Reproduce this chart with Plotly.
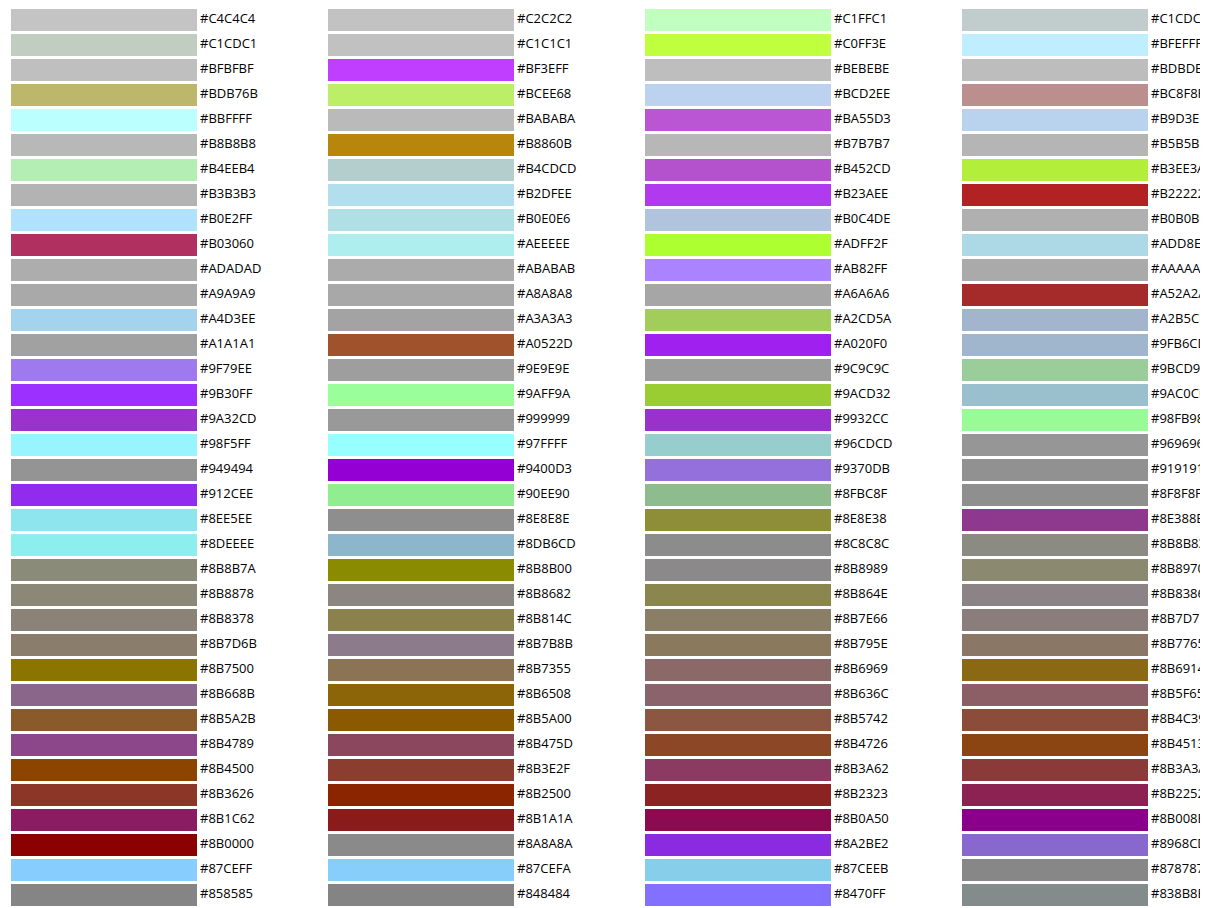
import plotly.graph_objects as go

# Cores por coluna (ordem decrescente de hex, lidas linha a linha)
col1 = ['C71585', 'C4C4C4', 'C1CDC1', 'BFBFBF', 'BDB76B', 'BBFFFF', 'B8B8B8', 'B4EEB4', 'B3B3B3',
        'B0E2FF', 'B03060', 'ADADAD', 'A9A9A9', 'A4D3EE', 'A1A1A1', '9F79EE', '9B30FF', '9A32CD',
        '98F5FF', '949494', '912CEE', '8EE5EE', '8DEEEE', '8B8B7A', '8B8878', '8B8378', '8B7D6B',
        '8B7500', '8B668B', '8B5A2B', '8B4789', '8B4500', '8B3626', '8B1C62', '8B0000', '87CEFF',
        '858585']
col2 = ['C6E2FF', 'C2C2C2', 'C1C1C1', 'BF3EFF', 'BCEE68', 'BABABA', 'B8860B', 'B4CDCD', 'B2DFEE',
        'B0E0E6', 'AEEEEE', 'ABABAB', 'A8A8A8', 'A3A3A3', 'A0522D', '9E9E9E', '9AFF9A', '999999',
        '97FFFF', '9400D3', '90EE90', '8E8E8E', '8DB6CD', '8B8B00', '8B8682', '8B814C', '8B7B8B',
        '8B7355', '8B6508', '8B5A00', '8B475D', '8B3E2F', '8B2500', '8B1A1A', '8A8A8A', '87CEFA',
        '848484']
col3 = ['C67171', 'C1FFC1', 'C0FF3E', 'BEBEBE', 'BCD2EE', 'BA55D3', 'B7B7B7', 'B452CD', 'B23AEE',
        'B0C4DE', 'ADFF2F', 'AB82FF', 'A6A6A6', 'A2CD5A', 'A020F0', '9C9C9C', '9ACD32', '9932CC',
        '96CDCD', '9370DB', '8FBC8F', '8E8E38', '8C8C8C', '8B8989', '8B864E', '8B7E66', '8B795E',
        '8B6969', '8B636C', '8B5742', '8B4726', '8B3A62', '8B2323', '8B0A50', '8A2BE2', '87CEEB',
        '8470FF']
col4 = ['C5C1AA', 'C1CDCD', 'BFEFFF', 'BDBDBD', 'BC8F8F', 'B9D3EE', 'B5B5B5', 'B3EE3A', 'B22222',
        'B0B0B0', 'ADD8E6', 'AAAAAA', 'A52A2A', 'A2B5CD', '9FB6CD', '9BCD9B', '9AC0CD', '98FB98',
        '969696', '919191', '8F8F8F', '8E388E', '8B8B83', '8B8970', '8B8386', '8B7D7B', '8B7765',
        '8B6914', '8B5F65', '8B4C39', '8B4513', '8B3A3A', '8B2252', '8B008B', '8968CD', '878787',
        '838B8B']

colunas = [col1, col2, col3, col4]

fig = go.Figure()

for c, cores in enumerate(colunas):
    inicio = 3 + 317 * c
    linhas = list(range(len(cores)))
    fig.add_trace(go.Bar(
        y=linhas,
        x=[186] * len(cores),
        base=inicio,
        orientation='h',
        width=0.88,
        marker=dict(color=['#' + h for h in cores], line=dict(width=0)),
        hoverinfo='skip',
        showlegend=False,
    ))
    fig.add_trace(go.Scatter(
        y=linhas,
        x=[inicio + 189] * len(cores),
        mode='text',
        text=['#' + h for h in cores],
        textposition='middle right',
        textfont=dict(size=13, color='#000', family='Open Sans'),
        hoverinfo='skip',
        showlegend=False,
        cliponaxis=False,
    ))

fig.update_layout(
    width=1208,
    height=908,
    margin=dict(l=0, r=0, t=0, b=0),
    plot_bgcolor='white',
    paper_bgcolor='white',
    barmode='overlay',
    xaxis=dict(range=[0, 1208], visible=False, fixedrange=True),
    yaxis=dict(range=[36.84, 0.52], visible=False, fixedrange=True),
    bargap=0,
)

fig.write_html("out.html")
